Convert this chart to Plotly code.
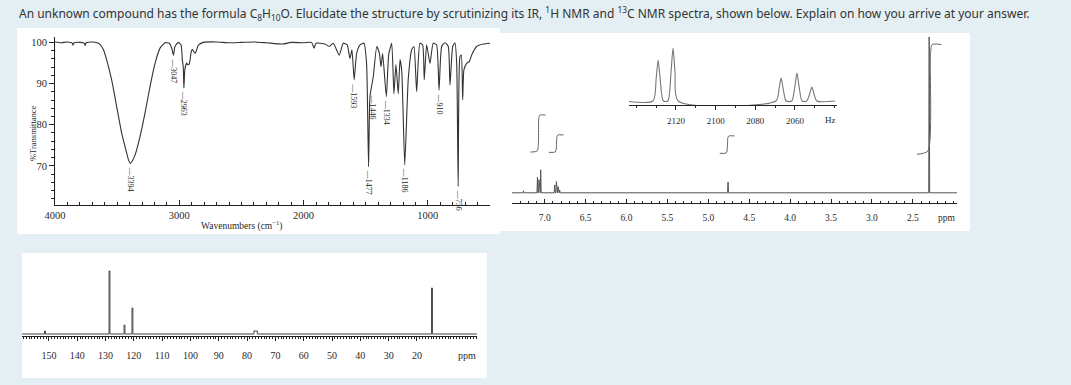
import plotly.graph_objects as go
import numpy as np

W, H = 1071, 385
def fx(px): return px / W
def fy(py): return 1 - py / H

# ---------------- DATA ----------------
title_text = ("An unknown compound has the formula C<sub>8</sub>H<sub>10</sub>O. Elucidate the structure by scrutinizing its IR, "
              "<sup>1</sup>H NMR and <sup>13</sup>C NMR spectra, shown below. Explain on how you arrive at your answer.")

ir_wavenumber = [4000, 3950, 3900, 3860, 3855, 3845, 3800, 3765, 3758, 3750, 3700, 3660, 3638, 3610, 3584, 3544,
                 3504, 3463, 3423, 3408, 3394, 3378, 3356, 3316, 3276, 3236, 3195, 3155, 3115, 3080, 3060, 3047, 3035, 3008,
                 2986, 2975, 2968, 2963, 2955, 2940, 2933, 2920, 2905, 2895, 2874, 2860, 2847, 2807, 2700, 2600,
                 2500, 2400, 2300, 2166, 2100, 2000, 1935, 1916, 1900, 1828, 1793, 1761, 1713, 1681, 1649, 1627,
                 1611, 1593, 1573, 1546, 1514, 1493, 1477, 1466, 1446, 1439, 1411, 1390, 1377, 1364, 1334, 1315,
                 1291, 1273, 1257, 1238, 1224, 1210, 1186, 1158, 1130, 1112, 1090, 1064, 1042, 1029, 1010, 983,
                 957, 930, 910, 889, 862, 836, 822, 800, 782, 768, 756, 742, 731, 720, 710, 688, 667, 648, 608,
                 554, 500]
ir_transmittance = [100.1, 99.9, 100.1, 99.8, 99.3, 99.9, 100.0, 99.8, 99.2, 99.9, 100.1, 99.9, 99.5, 98.2, 95.7, 90.9,
                    84.4, 77.9, 73.1, 71.4, 70.6, 71.2, 72.6, 77.1, 82.8, 89.2, 94.9, 98.6, 99.9, 99.8, 98.5, 96.9, 99.0, 100.0,
                    99.4, 95.6, 94.0, 88.9, 93.5, 95.0, 94.6, 94.7, 97.6, 98.3, 97.3, 98.2, 99.3, 100.0, 100.1, 99.9,
                    100.0, 100.1, 99.9, 99.6, 100.0, 99.9, 100.0, 98.6, 99.8, 99.6, 99.0, 99.8, 96.9, 99.8, 99.4, 96.1,
                    98.2, 90.9, 97.3, 99.4, 99.8, 94.9, 69.8, 86.8, 90.5, 91.7, 99.0, 97.3, 94.1, 97.3, 86.8, 97.0,
                    99.8, 87.5, 94.6, 87.5, 95.8, 93.0, 70.2, 90.9, 98.2, 99.0, 88.0, 99.8, 99.4, 90.9, 99.4, 94.9,
                    99.8, 99.4, 88.4, 99.0, 99.9, 99.0, 89.6, 99.0, 99.9, 94.9, 65.0, 96.5, 96.9, 86.0, 93.3, 94.9, 95.3, 96.9, 99.0,
                    99.6, 99.8]
ir_peak_labels = [3394, 3047, 2963, 1593, 1477, 1446, 1334, 1186, 910, 756]
ir_ytick_labels = ["70", "80", "90", "100"]
ir_xtick_labels = ["4000", "3000", "2000", "1000"]

h1_shift = [7.26, 7.089, 7.070, 7.049, 6.878, 6.857, 6.837, 6.817, 4.759, 2.300]
h1_height = [1.2, 9.5, 8.0, 14.0, 4.8, 6.8, 3.7, 1.7, 6.6, 94.8]
h1_integral_start = [7.175, 6.95, 4.86, 2.45]
h1_integral_end = [6.99, 6.77, 4.68, 2.15]
h1_integral_low = [24.8, 24.6, 24.0, 23.4]
h1_integral_high = [47.3, 35.2, 34.6, 90.2]
h1_tick_labels = ["7.0", "6.5", "6.0", "5.5", "5.0", "4.5", "4.0", "3.5", "3.0", "2.5"]

inset_hz = [2129.0, 2121.5, 2067.0, 2059.0, 2051.5]
inset_height = [45, 57, 27, 32, 18]
inset_tick_labels = ["2120", "2100", "2080", "2060"]

c13_shift = [151.4, 128.6, 123.3, 120.5, 77.0, 14.7]
c13_height = [5, 65, 11, 28, 5, 48]
c13_tick_labels = ["150", "140", "130", "120", "110", "100", "90", "80", "70", "60", "50", "40", "30", "20"]

# ---------------- STYLE ----------------
BG = "#e4eff4"
SERIF = "Liberation Serif"
INK = "#2a2a2a"

fig = go.Figure()

# IR spectrum
fig.add_trace(go.Scatter(x=ir_wavenumber, y=ir_transmittance, mode="lines",
                         line=dict(color="#333333", width=1.1, shape="spline", smoothing=0.5),
                         xaxis="x", yaxis="y", hoverinfo="skip"))

# 1H spectrum (spikes on baseline)
x_lo, x_hi = 7.40, 1.96
hx, hy = [x_lo], [0.0]
w = 0.006
for s, h in sorted(zip(h1_shift, h1_height), key=lambda t: -t[0]):
    hx += [s + w, s, s - w]
    hy += [0.0, h, 0.0]
hx.append(x_hi); hy.append(0.0)
fig.add_trace(go.Scatter(x=hx, y=hy, mode="lines", line=dict(color="#555555", width=1),
                         xaxis="x2", yaxis="y2", hoverinfo="skip"))
# integrals
for s0, s1, lo, hi in zip(h1_integral_start, h1_integral_end, h1_integral_low, h1_integral_high):
    span = s0 - s1
    ix = [s0, s0 - 0.45 * span, s0 - 0.55 * span, s0 - 0.62 * span, s1]
    iy = [lo, lo + 0.03 * (hi - lo), hi - 0.1 * (hi - lo), hi, hi]
    fig.add_trace(go.Scatter(x=ix, y=iy, mode="lines",
                             line=dict(color="#666666", width=1, shape="spline", smoothing=0.6),
                             xaxis="x2", yaxis="y2", hoverinfo="skip"))

# inset
ix_lo, ix_hi = 2143.7, 2038.8
px_, py_ = [ix_lo + 2], [4.0]
for s, h in sorted(zip(inset_hz, inset_height), key=lambda t: -t[0]):
    px_ += [s + 2.6, s + 1.0, s, s - 1.0, s - 2.6]
    py_ += [4.0, 4 + 0.55 * (h - 4), h, 4 + 0.55 * (h - 4), 4.0]
px_.append(ix_hi + 1); py_.append(4.0)
fig.add_trace(go.Scatter(x=px_, y=py_, mode="lines",
                         line=dict(color="#777777", width=1.1, shape="spline", smoothing=0.7),
                         xaxis="x3", yaxis="y3", hoverinfo="skip"))

# 13C spectrum
c_lo, c_hi = 159.5, -1.2
cx, cy = [c_lo], [2.0]
for s, h in sorted(zip(c13_shift, c13_height), key=lambda t: -t[0]):
    cw = 0.6 if s == 77.0 else 0.15
    cx += [s + cw, s + cw, s - cw, s - cw]
    cy += [2.0, h, h, 2.0]
cx.append(c_hi); cy.append(2.0)
fig.add_trace(go.Scatter(x=cx, y=cy, mode="lines", line=dict(color="#444444", width=1),
                         xaxis="x4", yaxis="y4", hoverinfo="skip"))

shapes = [
    dict(type="rect", xref="paper", yref="paper", x0=fx(17), x1=fx(500), y0=fy(234), y1=fy(28),
         fillcolor="white", line=dict(width=0), layer="below"),
    dict(type="rect", xref="paper", yref="paper", x0=fx(500), x1=fx(970), y0=fy(231), y1=fy(33),
         fillcolor="white", line=dict(width=0), layer="below"),
    dict(type="rect", xref="paper", yref="paper", x0=fx(22), x1=fx(487), y0=fy(378), y1=fy(253),
         fillcolor="white", line=dict(width=0), layer="below"),
]

def note(text, px, py, size, angle=0, family=SERIF, xanchor="center", color=INK):
    return dict(text=text, x=fx(px), y=fy(py), xref="paper", yref="paper", xanchor=xanchor, yanchor="middle",
                textangle=angle, showarrow=False, font=dict(family=family, size=size, color=color))

annotations = [
    note(title_text, 17, 13, 12.0, family="Noto Sans", xanchor="left", color="#333333"),
    note("Wavenumbers (cm<sup>−1</sup>)", 242, 225, 9.5),
    note("%Transmittance", 33, 133, 8.5, angle=-90),
    note("ppm", 947, 218, 9.5),
    note("Hz", 830, 120, 9),
    note("ppm", 467, 355, 10),
]
label_shift = {1446: -10}
for p in ir_peak_labels:
    t = float(np.interp(p, ir_wavenumber[::-1], ir_transmittance[::-1]))
    annotations.append(dict(text="—" + str(p), x=p, y=t, xref="x", yref="y", textangle=90,
                            xanchor="center", yanchor="top", yshift=label_shift.get(p, 0) - 1,
                            showarrow=False, font=dict(family=SERIF, size=8, color=INK)))

def axis_common(size):
    return dict(showgrid=False, zeroline=False, linecolor="#222", linewidth=1, tickcolor="#222",
                automargin=False, tickfont=dict(family=SERIF, size=size, color=INK))

fig.update_layout(
    width=W, height=H, margin=dict(l=0, r=0, t=0, b=0, autoexpand=False),
    paper_bgcolor=BG, plot_bgcolor="rgba(0,0,0,0)", showlegend=False,
    shapes=shapes, annotations=annotations,
    xaxis=dict(domain=[fx(55), fx(490)], range=[4000, 500], anchor="y", showline=True,
               ticks="inside", ticklen=5, tickvals=[4000, 3000, 2000, 1000], ticktext=ir_xtick_labels,
               minor=dict(ticks="inside", ticklen=3, dtick=100, tick0=0, tickcolor="#222"), **axis_common(10.5)),
    yaxis=dict(domain=[fy(205), fy(37)], range=[60.5, 101.3], anchor="x", showline=True,
               ticks="outside", ticklen=5, tickvals=[70, 80, 90, 100], ticktext=ir_ytick_labels,
               minor=dict(ticks="outside", ticklen=3, dtick=2, tick0=0, tickcolor="#222"), **axis_common(10.5)),
    xaxis2=dict(domain=[fx(512), fx(957)], range=[x_lo, x_hi], anchor="y2", showline=True,
                ticks="inside", ticklen=4, tickvals=[7.0 - 0.5 * i for i in range(10)], ticktext=h1_tick_labels,
                ticklabelstandoff=6,
                minor=dict(ticks="inside", ticklen=2, dtick=0.1, tick0=0, tickcolor="#222"), **axis_common(9.5)),
    yaxis2=dict(domain=[fy(203), fy(35)], range=[-6.2, 96], anchor="x2", visible=False),
    xaxis3=dict(domain=[fx(629), fx(837)], range=[ix_lo, ix_hi], anchor="y3", showline=True,
                ticks="outside", ticklen=4, tickvals=[2120, 2100, 2080, 2060], ticktext=inset_tick_labels,
                ticklabelstandoff=3,
                minor=dict(ticks="outside", ticklen=2, dtick=10, tick0=0, tickcolor="#222"), **axis_common(9)),
    yaxis3=dict(domain=[fy(105), fy(40)], range=[0, 65], anchor="x3", visible=False),
    xaxis4=dict(domain=[fx(22), fx(477)], range=[c_lo, c_hi], anchor="y4", showline=True,
                ticks="outside", ticklen=4, tickvals=list(range(150, 19, -10)), ticktext=c13_tick_labels,
                ticklabelstandoff=6,
                minor=dict(ticks="outside", ticklen=2, dtick=1, tick0=0, tickcolor="#222"), **axis_common(10)),
    yaxis4=dict(domain=[fy(336), fy(262)], range=[0, 74], anchor="x4", visible=False),
)

fig.write_html("out.html")
